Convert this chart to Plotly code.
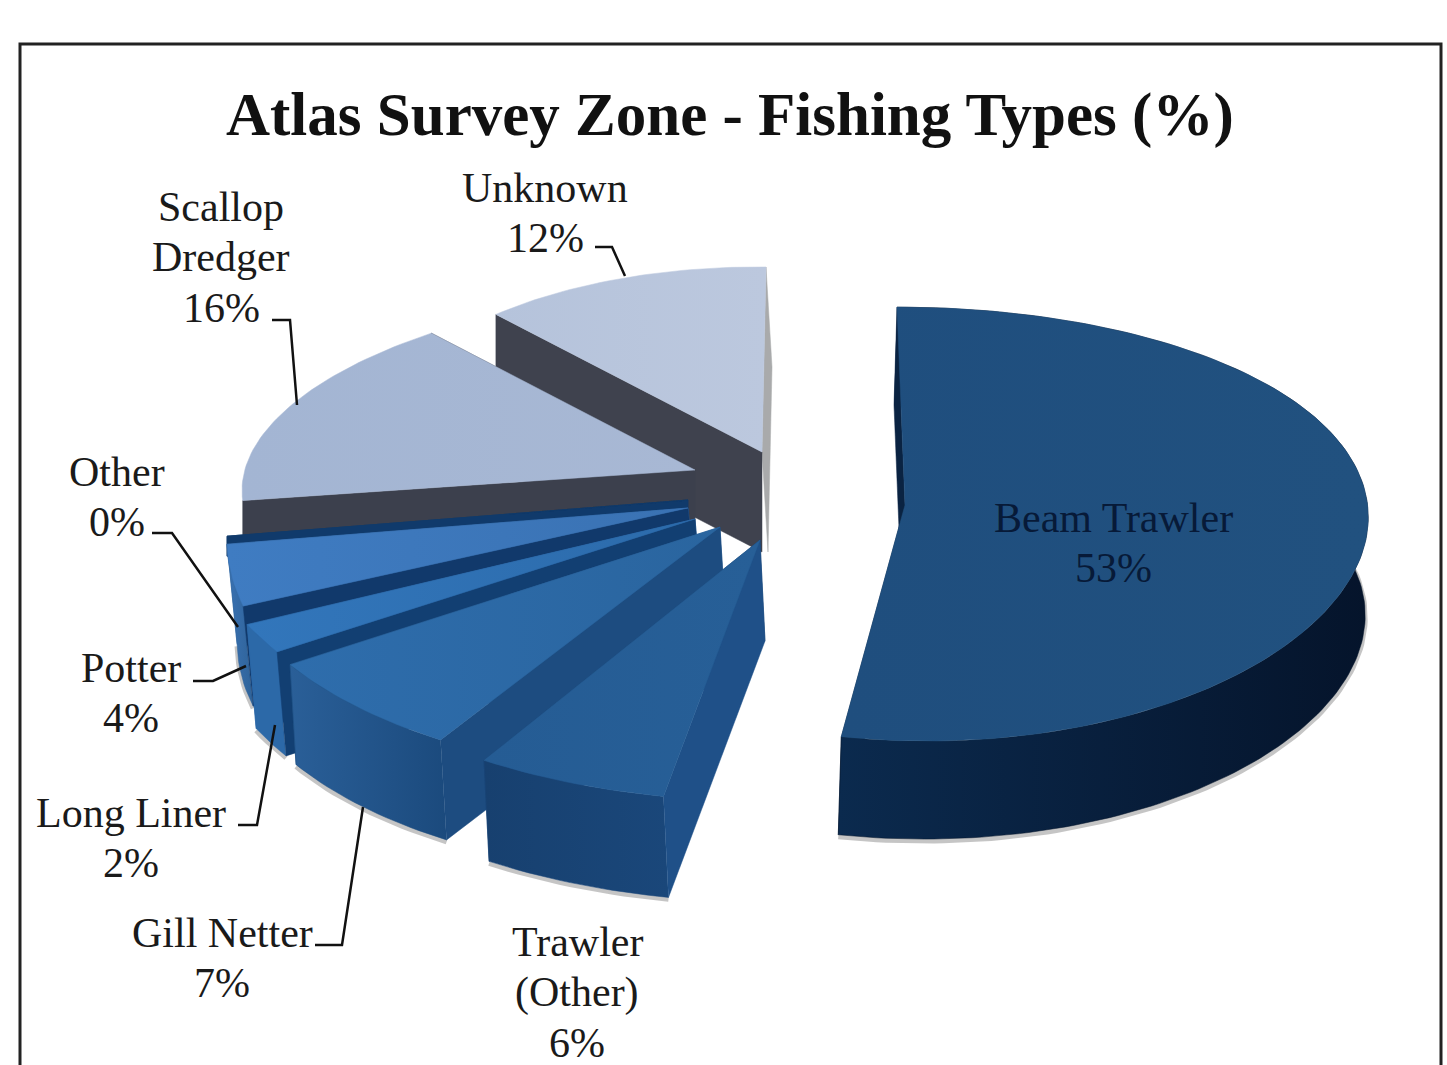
import numpy as np
import plotly.graph_objects as go

# data, clockwise from 12 o'clock
categories = ["Beam Trawler", "Trawler<br>(Other)", "Gill Netter", "Long Liner", "Potter", "Other", "Scallop<br>Dredger", "Unknown"]
shares = [53, 6, 7, 2, 4, 0, 16, 12]

# each wedge was exploded by hand in the original, so it gets its own ellipse
apex_x = [912, 760, 720, 695, 688, 688, 695, 762]
apex_y = [510, 540, 527, 519, 508, 500, 470, 452]
tip_x = [905] + apex_x[1:]
tip_y = [505] + apex_y[1:]
radius_x = [456, 515, 501, 495, 454, 454, 449, 393]
radius_y = [217, 261, 249, 248, 256, 256, 184, 185]
skew_x = [15, 0, -13, 0, -80, -80, -60, -4]
skew_y = [0, 0, -5, 0, 12, 12, 4, 4]
persp = [0.065, 0, 0, 0, 0, 0, 0, 0]
depth_dx = [-3, 5, 6, 9, 10, 0, 0, 0]
depth_dy = [98, 101, 100, 104, 100, 20, 100, 100]
end_dx = [-3, 5, 6, 9, 10, 0, 0, 6]

top_left = ["#1f4e7e", "#255c94", "#2e6dac", "#3276bb", "#3f7cc2", "#103a6b", "#a3b5d3", "#b5c3db"]
top_right = ["#21517f", "#275f97", "#2a659f", "#2c6bab", "#3a72b3", "#103a6b", "#a8b8d4", "#bcc8de"]
rim_left = ["#0b2a4e", "#17406f", "#2a5f98", "#2c69a8", "#3a72b3", "#103a6b", "#a3b5d3", "#b5c3db"]
rim_right = ["#05142b", "#1a477a", "#1b4a7d", "#2c69a8", "#2f6399", "#103a6b", "#a3b5d3", "#b5c3db"]
start_wall = ["#0a2342", "#1f5088", "#1d4c80", "#123f72", "#11396b", "#103a6b", "#3c404d", "#3f424e"]
end_wall = ["#0a2342", "#17406f", "#25598f", "#2c69a8", "#3a72b3", "#103a6b", "#3c404d", "#a9aaab"]

label_x = [1113, 577, 222, 131, 131, 117, 221, 545]
label_y = [543, 992, 958, 838, 693, 497, 257, 213]
label_color = ["#071a38"] + ["#1a1a1a"] * 7
leaders = [
    "M 272 320 L 290 320 L 297 405",
    "M 595 247 L 612 247 L 625 276",
    "M 152 533 L 172 533 L 238 627",
    "M 193 681 L 213 681 L 246 666",
    "M 238 825 L 257 825 L 275 725",
    "M 315 945 L 342 945 L 363 807",
]

FONT = "Liberation Serif"
LINE_GAP = 50.5
edges = np.cumsum([0] + shares) * 3.6


def wedge_xy(i, angles):
    t = np.radians(angles)
    u, v = np.sin(t), -np.cos(t)
    x = apex_x[i] + radius_x[i] * u + skew_x[i] * v
    y = apex_y[i] + radius_y[i] * v * (1 + persp[i] * v) + skew_y[i] * u
    return x, y


def add_poly(fig, name, x, y, left, right):
    fig.add_trace(go.Scatter(
        x=x, y=y, mode="lines", fill="toself", name=name, hoverinfo="name",
        line=dict(width=0.5, color=right),
        fillcolor=right,
        fillgradient=dict(type="horizontal", colorscale=[[0, left], [1, right]]),
        showlegend=False,
    ))


def add_wall(fig, i, angle, color, dx):
    cx, cy = wedge_xy(i, np.array([angle]))
    ax, ay = tip_x[i], tip_y[i]
    dy = depth_dy[i]
    add_poly(fig, categories[i], [ax, cx[0], cx[0] + dx, ax + dx, ax], [ay, cy[0], cy[0] + dy, ay + dy, ay], color, color)


fig = go.Figure()

# back to front, the big slice goes on top
for i in [7, 6, 5, 4, 3, 2, 1, 0]:
    angles = np.linspace(edges[i], edges[i + 1], max(shares[i] * 3, 2))
    x, y = wedge_xy(i, angles)
    add_wall(fig, i, edges[i + 1], end_wall[i], end_dx[i])
    # the outer side only shows on wedges that face the viewer
    if np.cos(np.radians((edges[i] + edges[i + 1]) / 2)) < 0:
        fig.add_trace(go.Scatter(x=x + depth_dx[i], y=y + depth_dy[i] + 2, mode="lines", hoverinfo="skip", showlegend=False,
                                 line=dict(width=5, color="rgba(90,90,90,0.35)")))
        rim_x = np.concatenate([x, x[::-1] + depth_dx[i]])
        rim_y = np.concatenate([y, y[::-1] + depth_dy[i]])
        add_poly(fig, categories[i], rim_x, rim_y, rim_left[i], rim_right[i])
    add_wall(fig, i, edges[i], start_wall[i], depth_dx[i])
    add_poly(fig, categories[i], np.r_[tip_x[i], x, tip_x[i]], np.r_[tip_y[i], y, tip_y[i]], top_left[i], top_right[i])

for i in range(len(categories)):
    lines = categories[i].split("<br>") + [f"{shares[i]}%"]
    for j, line in enumerate(lines):
        fig.add_annotation(x=label_x[i], y=label_y[i] + (j - (len(lines) - 1) / 2) * LINE_GAP, text=line, showarrow=False,
                           font=dict(family=FONT, size=42, color=label_color[i]))

fig.add_annotation(x=730, y=115, text="<b>Atlas Survey Zone - Fishing Types (%)</b>", showarrow=False,
                   font=dict(family=FONT, size=61, color="#111111"))

shapes = [dict(type="path", path=p, line=dict(color="#111111", width=2.5), layer="above") for p in leaders]
shapes.append(dict(type="rect", x0=20, y0=44, x1=1441, y1=1100, line=dict(color="#222222", width=3), layer="below"))

fig.update_layout(
    width=1447, height=1065, margin=dict(l=0, r=0, t=0, b=0),
    paper_bgcolor="white", plot_bgcolor="white",
    xaxis=dict(range=[0, 1447], visible=False, fixedrange=True),
    yaxis=dict(range=[1065, 0], visible=False, fixedrange=True),
    shapes=shapes,
)

fig.write_html("out.html", config=dict(displayModeBar=False), post_script="document.body.style.margin='0';")
